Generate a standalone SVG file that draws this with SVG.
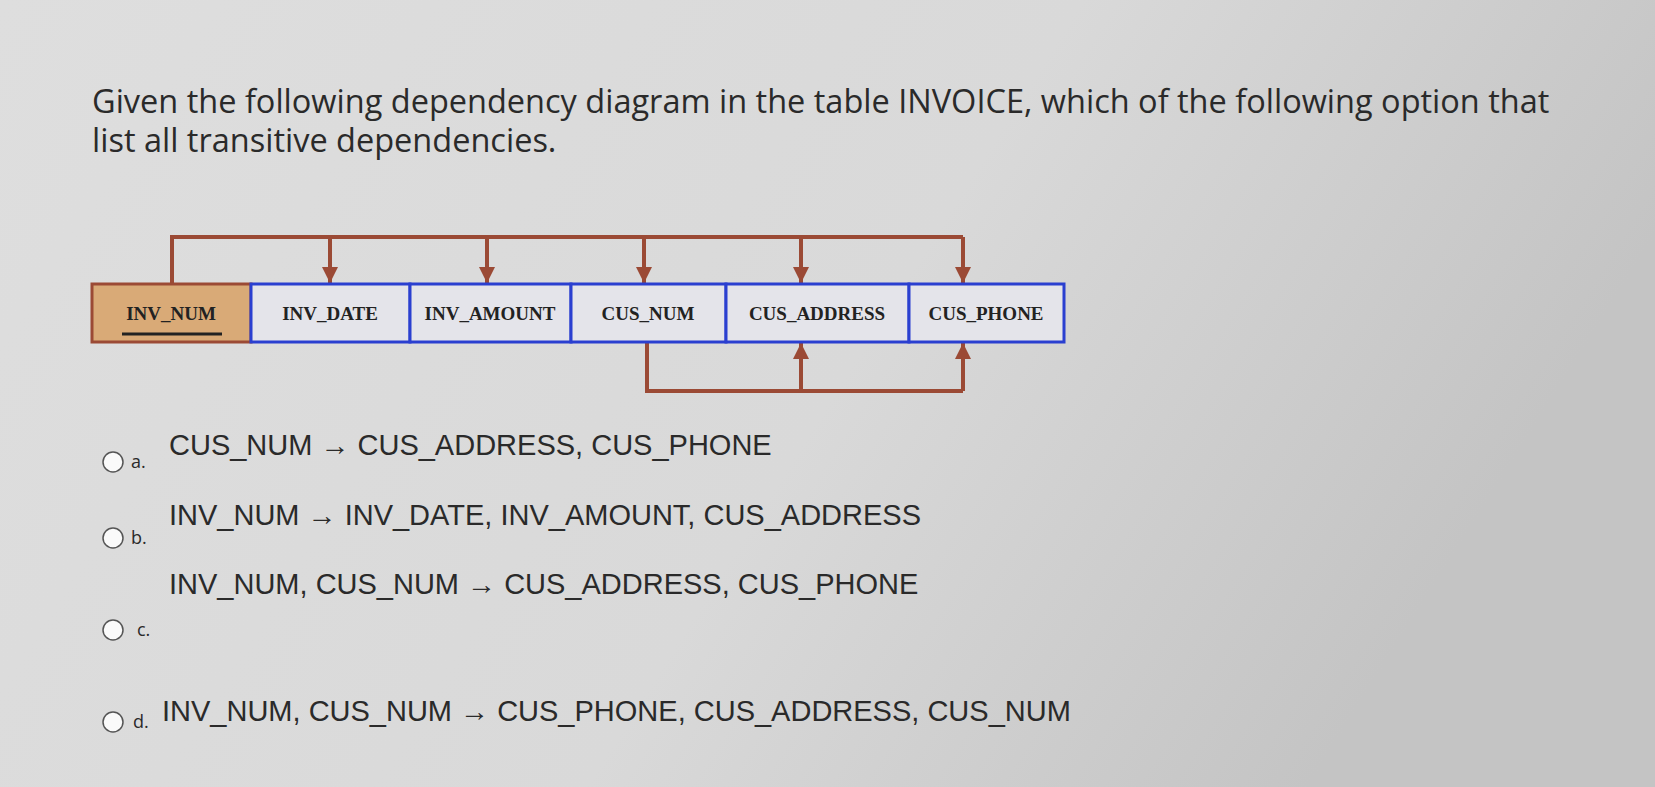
<svg xmlns="http://www.w3.org/2000/svg" width="1655" height="787" viewBox="0 0 1655 787">
<defs>
<linearGradient id="bg" x1="0" y1="0" x2="1" y2="0.3">
<stop offset="0" stop-color="#dedede"/><stop offset="0.6" stop-color="#d9d9d9"/><stop offset="1" stop-color="#c4c4c4"/>
</linearGradient>
<marker id="ah" viewBox="0 0 10 10" refX="10" refY="5" markerWidth="4" markerHeight="4" orient="auto"><path d="M0,0 L10,5 L0,10 z" fill="#9b4a35"/></marker>
</defs>
<style>
.q{font-family:"Open Sans","Liberation Sans",sans-serif;fill:#2a2a2a}
.t{font-size:32.5px}
.o{font-family:"Liberation Sans",sans-serif;font-size:29px}
.l{font-size:18px}
.box{fill:#e4e4ea;stroke:#2a3fd0;stroke-width:3}
.key{fill:#d9aa77;stroke:#9b4a35;stroke-width:3}
.bt{font-family:"Liberation Serif",serif;font-size:19px;font-weight:bold;fill:#222;text-anchor:middle}
.c{fill:none;stroke:#9b4a35;stroke-width:4}
.r{fill:#fafafa;stroke:#555;stroke-width:1.5}
</style>
<rect width="1655" height="787" fill="url(#bg)"/>
<text class="q t" x="92" y="113">Given the following dependency diagram in the table INVOICE, which of the following option that</text>
<text class="q t" x="92" y="152">list  all transitive dependencies.</text>
<g id="connectors">
<path class="c" d="M172,283 V237 H963"/>
<path class="c" marker-end="url(#ah)" d="M330,237 V283"/>
<path class="c" marker-end="url(#ah)" d="M487,237 V283"/>
<path class="c" marker-end="url(#ah)" d="M644,237 V283"/>
<path class="c" marker-end="url(#ah)" d="M801,237 V283"/>
<path class="c" marker-end="url(#ah)" d="M963,237 V283"/>
<path class="c" d="M647,342 V391 H963"/>
<path class="c" marker-end="url(#ah)" d="M801,391 V343"/>
<path class="c" marker-end="url(#ah)" d="M963,391 V343"/>
</g>
<g id="INV_NUM"><rect class="key" x="92" y="284" width="159" height="58"/><text class="bt" x="171" y="320">INV_NUM</text><line x1="122" y1="334" x2="222" y2="334" stroke="#222" stroke-width="3"/></g>
<g id="INV_DATE"><rect class="box" x="251" y="284" width="159" height="58"/><text class="bt" x="330" y="320">INV_DATE</text></g>
<g id="INV_AMOUNT"><rect class="box" x="410" y="284" width="161" height="58"/><text class="bt" x="490" y="320">INV_AMOUNT</text></g>
<g id="CUS_NUM"><rect class="box" x="571" y="284" width="155" height="58"/><text class="bt" x="648" y="320">CUS_NUM</text></g>
<g id="CUS_ADDRESS"><rect class="box" x="726" y="284" width="183" height="58"/><text class="bt" x="817" y="320">CUS_ADDRESS</text></g>
<g id="CUS_PHONE"><rect class="box" x="909" y="284" width="155" height="58"/><text class="bt" x="986" y="320">CUS_PHONE</text></g>
<g id="optA"><circle class="r" cx="113" cy="462" r="10"/><text class="q l" x="131" y="468">a.</text><text class="q o" x="169" y="455">CUS_NUM → CUS_ADDRESS, CUS_PHONE</text></g>
<g id="optB"><circle class="r" cx="113" cy="538" r="10"/><text class="q l" x="131" y="544">b.</text><text class="q o" x="169" y="525">INV_NUM → INV_DATE, INV_AMOUNT, CUS_ADDRESS</text></g>
<g id="optC"><circle class="r" cx="113" cy="630" r="10"/><text class="q l" x="137" y="636">c.</text><text class="q o" x="169" y="594">INV_NUM, CUS_NUM → CUS_ADDRESS, CUS_PHONE</text></g>
<g id="optD"><circle class="r" cx="113" cy="722" r="10"/><text class="q l" x="133" y="728">d.</text><text class="q o" x="162" y="721">INV_NUM, CUS_NUM → CUS_PHONE, CUS_ADDRESS, CUS_NUM</text></g>
</svg>
